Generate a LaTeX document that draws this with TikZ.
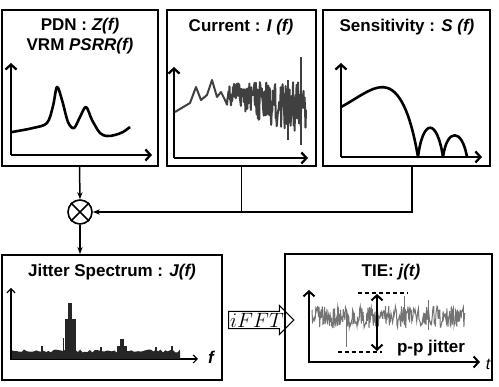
\documentclass[tikz,border=0pt]{standalone}
\usepackage{fontspec}
\setmainfont{Liberation Sans}
\usetikzlibrary{arrows.meta,shapes.arrows}

\begin{document}
\begin{tikzpicture}[x=1pt,y=-1pt,
  panel/.style={draw,line width=2pt,inner sep=0pt},
  title/.style={font=\fontsize{17}{19}\selectfont\bfseries,inner sep=0pt},
  axis/.style={line width=2.3pt,-{Straight Barb[length=5pt,width=11pt]}},
  thinaxis/.style={line width=1.2pt,-{Straight Barb[length=4pt,width=8pt]}},
  conn/.style={line width=1.5pt},
  curve/.style={line width=2.6pt,line join=round}]
\useasboundingbox (0,0) rectangle (499,387);
\pgfmathsetseed{11}

% the three input panels
\node [panel,minimum width=156pt,minimum height=156pt] (pdn) at (79.5,88) {};
\node [panel,minimum width=149pt,minimum height=156pt] (cur) at (241.5,88) {};
\node [panel,minimum width=167pt,minimum height=156pt] (sens) at (406.5,88) {};

\node [title] (pdnt) at (80,26) {PDN : \textit{Z(f)}};
\node [title] (vrmt) at (80,46) {VRM \textit{PSRR(f)}};
\node [title] (curt) at (241,27) {Current : \textit{I (f)}};
\node [title] (senst) at (407,27) {Sensitivity : \textit{S (f)}};

% PDN impedance
\draw [axis] (11,155) -- (11,63);
\draw [axis] (11,155) -- (152,155);
\draw [curve] plot[smooth,tension=0.55] coordinates {(12,132) (33,128) (47,123) (53,106) (57,87)
  (62,100) (68,122) (74,128) (80,117) (86,107) (92,120) (100,133) (107,136) (115,135) (123,132) (130,127)};

% current spectrum
\draw [axis] (174,158) -- (174,67);
\draw [axis] (174,158) -- (308,158);
\draw [curve,line width=2pt,black!75] (175,112) -- (190,103) -- (196,87) -- (201,100) -- (207,95)
  -- (212,80) -- (217,97) -- (221,92) -- (225,100)
  -- plot[domain=227:306,samples=160] (\x,{82+rnd*(24+0.45*(\x-227))});
\draw [line width=2pt,black!75] (301,57) -- (301,145);
\draw [line width=2pt,black!75] (288,80) -- (288,140);

% sensitivity
\draw [axis] (341,157) -- (341,63);
\draw [axis] (341,157) -- (482,157);
\draw [curve] (341,107) .. controls (360,97) and (376,82) .. (390,89)
  .. controls (405,97) and (413,128) .. (418,157)
  .. controls (423,118) and (437,118) .. (443,157)
  .. controls (447,128) and (462,128) .. (467,157);

% multiplier
\node [circle,draw,line width=1.6pt,minimum size=24pt,inner sep=0pt] (mix) at (80,212) {};
\draw [conn] (mix.north west) -- (mix.south east);
\draw [conn] (mix.north east) -- (mix.south west);

\draw [conn,-{Stealth[length=7pt]}] (pdn.south) -- (mix.north);
\draw [conn] (cur.south) -- (cur.south |- mix.east);
\draw [conn,-{Stealth[length=7pt]}] ([xshift=5.5pt]sens.south) |- (mix.east);

% output panels
\node [panel,minimum width=220pt,minimum height=125pt] (jit) at (112,317.5) {};
\node [panel,minimum width=207pt,minimum height=126pt] (tie) at (388.5,317) {};
\draw [conn,-{Stealth[length=7pt]}] (mix.south) -- (mix.south |- jit.north);

\node [title] (jitt) at (112,272) {Jitter Spectrum : \textit{J(f)}};
\node [title] (tiet) at (391,272) {TIE: \textit{j(t)}};

% jitter spectrum
\draw [thinaxis] (11,360) -- (11,288);
\draw [thinaxis] (11,359) -- (198,359);
\node [font=\fontsize{17}{19}\selectfont\bfseries\itshape,inner sep=0pt] (flab) at (211,357) {f};
\fill [black!85] (12,359) -- plot[domain=12:180,samples=70] (\x,{349.5+rnd*3}) -- (180,359) -- cycle;
\fill [black!85] (65,319) rectangle (76,359);
\fill [black!85] (68,303) rectangle (72,359);
\fill [black!85] (62.5,338) rectangle (64,359);
\fill [black!85] (117,346) rectangle (127,359);
\fill [black!85] (120,339) rectangle (124,359);
\foreach \sx/\sy in {41/346,100/347,155/347,171/346} {
  \fill [black!85] (\sx,\sy) rectangle (\sx+1.5,359);
}

% iFFT arrow
\node [single arrow,draw,line width=1pt,single arrow head extend=6pt,minimum height=57pt,
  minimum width=25pt,inner sep=1pt,font=\fontsize{20}{22}\selectfont] (ifft) at (257,320) {$iFFT$};

% time interval error
\draw [axis,line width=2pt] (309,363) -- (309,290);
\draw [axis,line width=2pt] (309,362) -- (480,362);
\node [font=\fontsize{16}{18}\selectfont\itshape,inner sep=0pt] (tlab) at (488,364) {t};
\draw [black!55,line width=1pt] plot[domain=312:465,samples=280] (\x,{317+11*rand});
\draw [black!55,line width=1pt] (346,310) -- (346,347);
\draw [black!55,line width=1pt] (404,296) -- (404,325);
\draw [black!55,line width=1pt] (428,300) -- (428,330);
\coordinate (ptopl) at (358,293);
\coordinate (ptopr) at (408,293);
\coordinate (pbotl) at (338,352);
\coordinate (pbotr) at (382,352);
\draw [line width=1.2pt,dash pattern=on 4pt off 3pt] (ptopl) -- (ptopr);
\draw [line width=1.2pt,dash pattern=on 4pt off 3pt] (pbotl) -- (pbotr);
\draw [line width=2pt,{Straight Barb[length=5pt,width=11pt]}-{Straight Barb[length=5pt,width=11pt]}]
  (377,294) -- (377,351);
\node [title] (pplab) at (431,348) {p-p jitter};
\end{tikzpicture}
\end{document}
